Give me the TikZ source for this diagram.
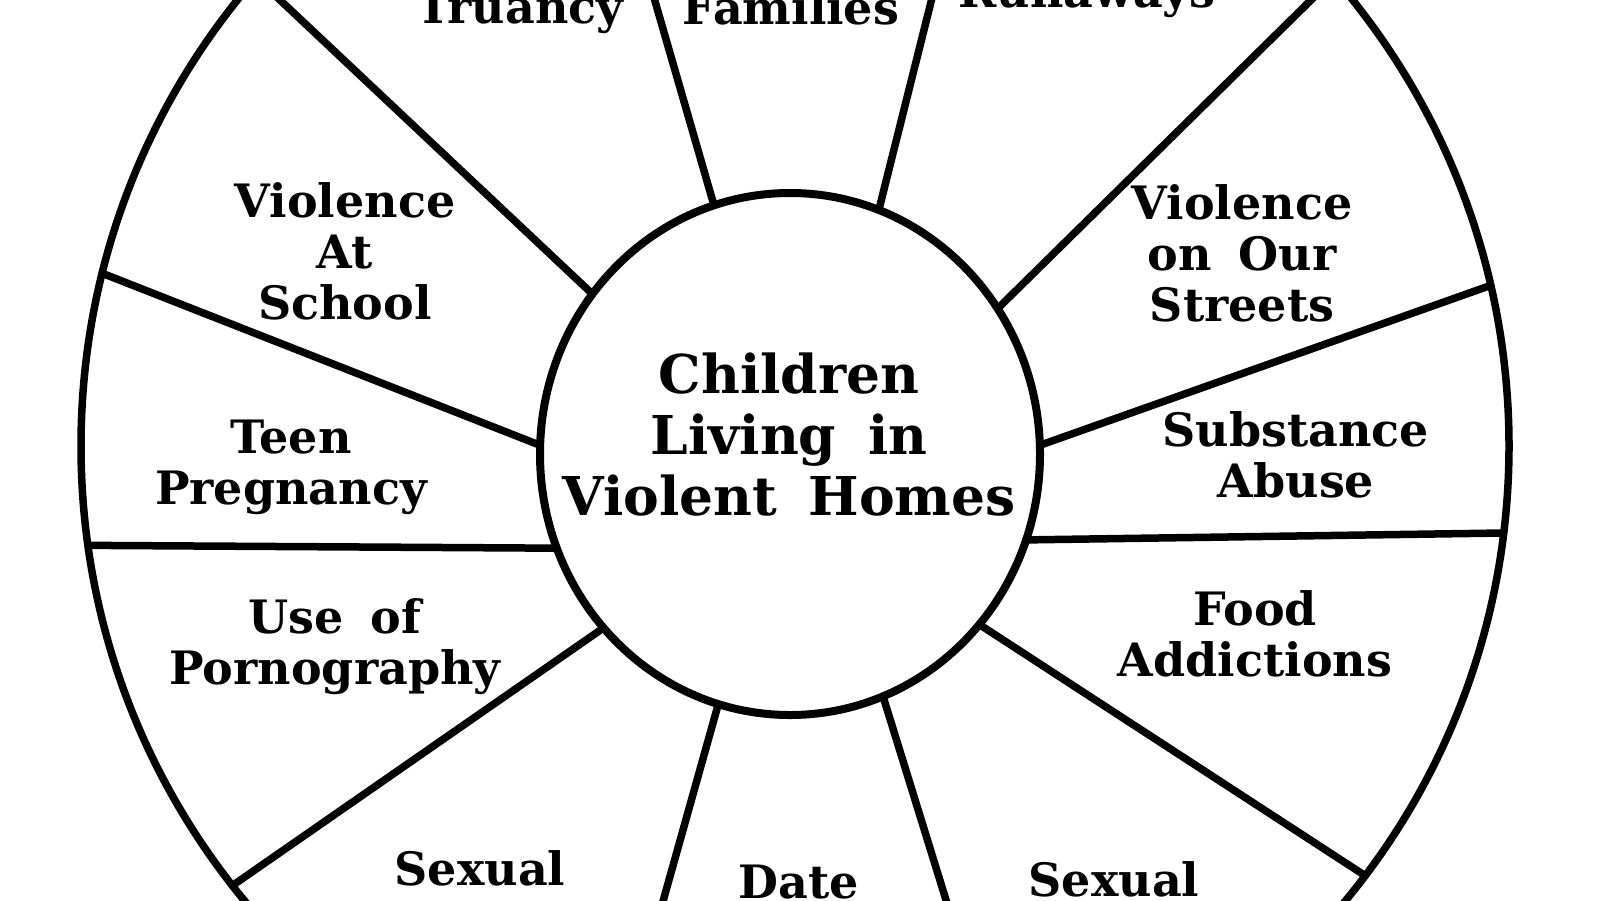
\documentclass[tikz,border=0pt]{standalone}
\usepackage{fontspec}
\newfontfamily\labfont{DejaVu Serif}[WordSpace=1.7]
\usetikzlibrary{shapes.geometric}
\begin{document}
\begin{tikzpicture}[x=1pt,y=-1pt,
  lab/.style={font=\labfont\bfseries\fontsize{46}{51}\selectfont, align=center, inner sep=0pt},
  hublab/.style={font=\labfont\bfseries\fontsize{53.5}{61}\selectfont, align=center, inner sep=0pt},
  spoke/.style={line width=7.5pt, line cap=round},
  ring/.style={draw, line width=7.5pt, inner sep=0pt, outer sep=0pt}]
\path[use as bounding box, clip] (0,0) rectangle (1600,900);
\fill[white] (0,0) rectangle (1600,900);
\node[ring, circle, minimum size=1428pt] (rim) at (795,446) {};
\node[ring, ellipse, line width=8pt, minimum width=500pt, minimum height=522pt] (hub) at (790,454) {};
\node[hublab] (hubtext) at (789,435) {Children\\Living in\\Violent Homes};
\draw[spoke] (hub.141.9) -- (rim.139.15);
\draw[spoke] (hub.107.6) -- (rim.107.34);
\draw[spoke] (hub.70.7) -- (rim.74.53);
\draw[spoke] (hub.35.4) -- (rim.41.67);
\draw[spoke] (hub.2.1) -- (rim.13.7);
\draw[spoke] (hub.-20.5) -- (rim.-7.7);
\draw[spoke] (hub.-42.4) -- (rim.-37.4);
\draw[spoke] (hub.-69.1) -- (rim.-72.65);
\draw[spoke] (hub.-106.3) -- (rim.-106.44);
\draw[spoke] (hub.223.9) -- (rim.218.35);
\draw[spoke] (hub.202.9) -- (rim.188.59);
\draw[spoke] (hub.178.2) -- (rim.166.5);
\node[lab, anchor=base] (truancy) at (520,23) {Truancy};
\node[lab, anchor=base] (families) at (791,24) {Families};
\node[lab, anchor=base] (runaways) at (1087,7) {Runaways};
\node[lab] (school) at (345,251) {Violence\\At\\School};
\node[lab] (streets) at (1242,253) {Violence\\on Our\\Streets};
\node[lab] (teen) at (291,467) {Teen\\Pregnancy};
\node[lab] (subst) at (1296,455) {Substance\\Abuse};
\node[lab] (porn) at (335,647) {Use of\\Pornography};
\node[lab] (food) at (1255,634) {Food\\Addictions};
\node[lab] (sexl) at (480,868) {Sexual};
\node[lab] (date) at (799,882) {Date};
\node[lab] (sexr) at (1114,879) {Sexual};
\end{tikzpicture}
\end{document}
